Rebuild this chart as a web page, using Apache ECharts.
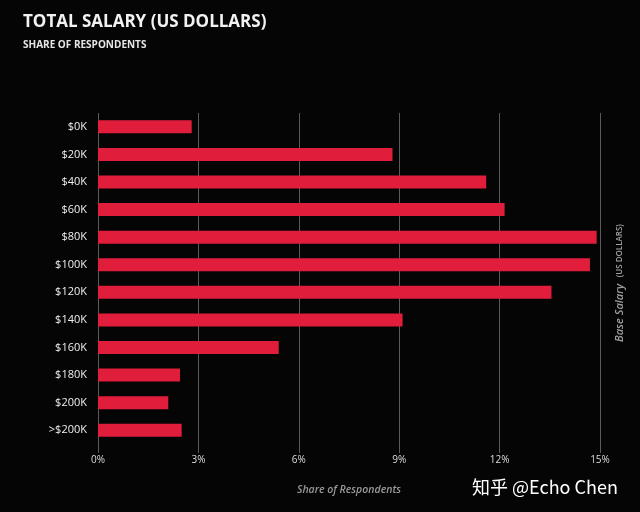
<!DOCTYPE html>
<html>
<head>
<meta charset="utf-8">
<script src="https://cdn.jsdelivr.net/npm/echarts@6/dist/echarts.min.js"></script>
<style>
  html, body { margin: 0; padding: 0; background: #050505; }
  #chart { width: 640px; height: 512px; }
</style>
</head>
<body>
<div id="chart"></div>
<script>
// salary bands, top to bottom
const categories = ['$0K', '$20K', '$40K', '$60K', '$80K', '$100K', '$120K', '$140K', '$160K', '$180K', '$200K', '>$200K']
// share of respondents, %
const shares = [2.8, 8.8, 11.6, 12.15, 14.9, 14.7, 13.55, 9.1, 5.4, 2.45, 2.1, 2.5]
const xTicks = [0, 3, 6, 9, 12, 15]

const font = '"Open Sans", sans-serif'
const chart = echarts.init(document.getElementById('chart'))

chart.setOption({
  backgroundColor: '#050505',
  animation: false,
  title: [
    {
      text: 'TOTAL SALARY (US DOLLARS)',
      left: 23,
      top: 14,
      padding: 0,
      textStyle: { color: '#f2f2f2', fontSize: 17, fontWeight: 'bold', fontFamily: font }
    },
    {
      text: 'SHARE OF RESPONDENTS',
      left: 23,
      top: 40,
      padding: 0,
      textStyle: { color: '#e6e6e6', fontSize: 10, fontWeight: 'bold', fontFamily: font }
    }
  ],
  grid: [
    // bars
    { left: 98, right: 40, top: 113, height: 331 },
    // vertical guide lines run a bit past the last bar
    { left: 98, right: 40, top: 113, bottom: 59 }
  ],
  xAxis: [
    {
      gridIndex: 0,
      type: 'value',
      min: 0,
      max: 15,
      interval: 3,
      show: false
    },
    {
      gridIndex: 1,
      type: 'value',
      min: xTicks[0],
      max: xTicks[xTicks.length - 1],
      interval: 3,
      axisLine: { show: false },
      axisTick: { show: false },
      splitLine: { show: true, lineStyle: { color: '#5a5a5a', width: 1 } },
      axisLabel: {
        color: '#dcdcdc',
        fontSize: 10,
        fontFamily: font,
        margin: 2,
        formatter: (v) => v + '%'
      }
    }
  ],
  yAxis: [
    {
      gridIndex: 0,
      type: 'category',
      data: categories,
      inverse: true,
      axisLine: { show: false },
      axisTick: { show: false },
      axisLabel: { color: '#efefef', fontSize: 11, fontFamily: font, margin: 11 }
    },
    {
      gridIndex: 1,
      type: 'value',
      show: false
    }
  ],
  series: [
    {
      type: 'bar',
      xAxisIndex: 0,
      yAxisIndex: 0,
      data: shares,
      barWidth: 13,
      itemStyle: { color: '#e11d3c' },
      z: 3
    }
  ],
  graphic: [
    {
      type: 'text',
      x: 349,
      y: 490,
      style: {
        text: 'Share of Respondents',
        fill: '#9a9a9a',
        font: 'italic 600 10.5px "Open Sans", sans-serif',
        textAlign: 'center',
        textVerticalAlign: 'middle'
      }
    },
    {
      type: 'text',
      x: 620,
      y: 342,
      rotation: Math.PI / 2,
      style: {
        rich: {
          a: { fill: '#a0a0a0', font: 'italic 600 11px "Open Sans", sans-serif' },
          b: { fill: '#a0a0a0', font: '600 8px "Open Sans", sans-serif' }
        },
        text: '{a|Base Salary}  {b|(US DOLLARS)}',
        textAlign: 'left',
        textVerticalAlign: 'middle'
      }
    },
    {
      type: 'text',
      x: 472,
      y: 478,
      style: {
        text: '知乎 @Echo Chen',
        fill: '#ffffff',
        font: '18px "Noto Sans CJK SC", sans-serif'
      }
    }
  ]
})
</script>
</body>
</html>
